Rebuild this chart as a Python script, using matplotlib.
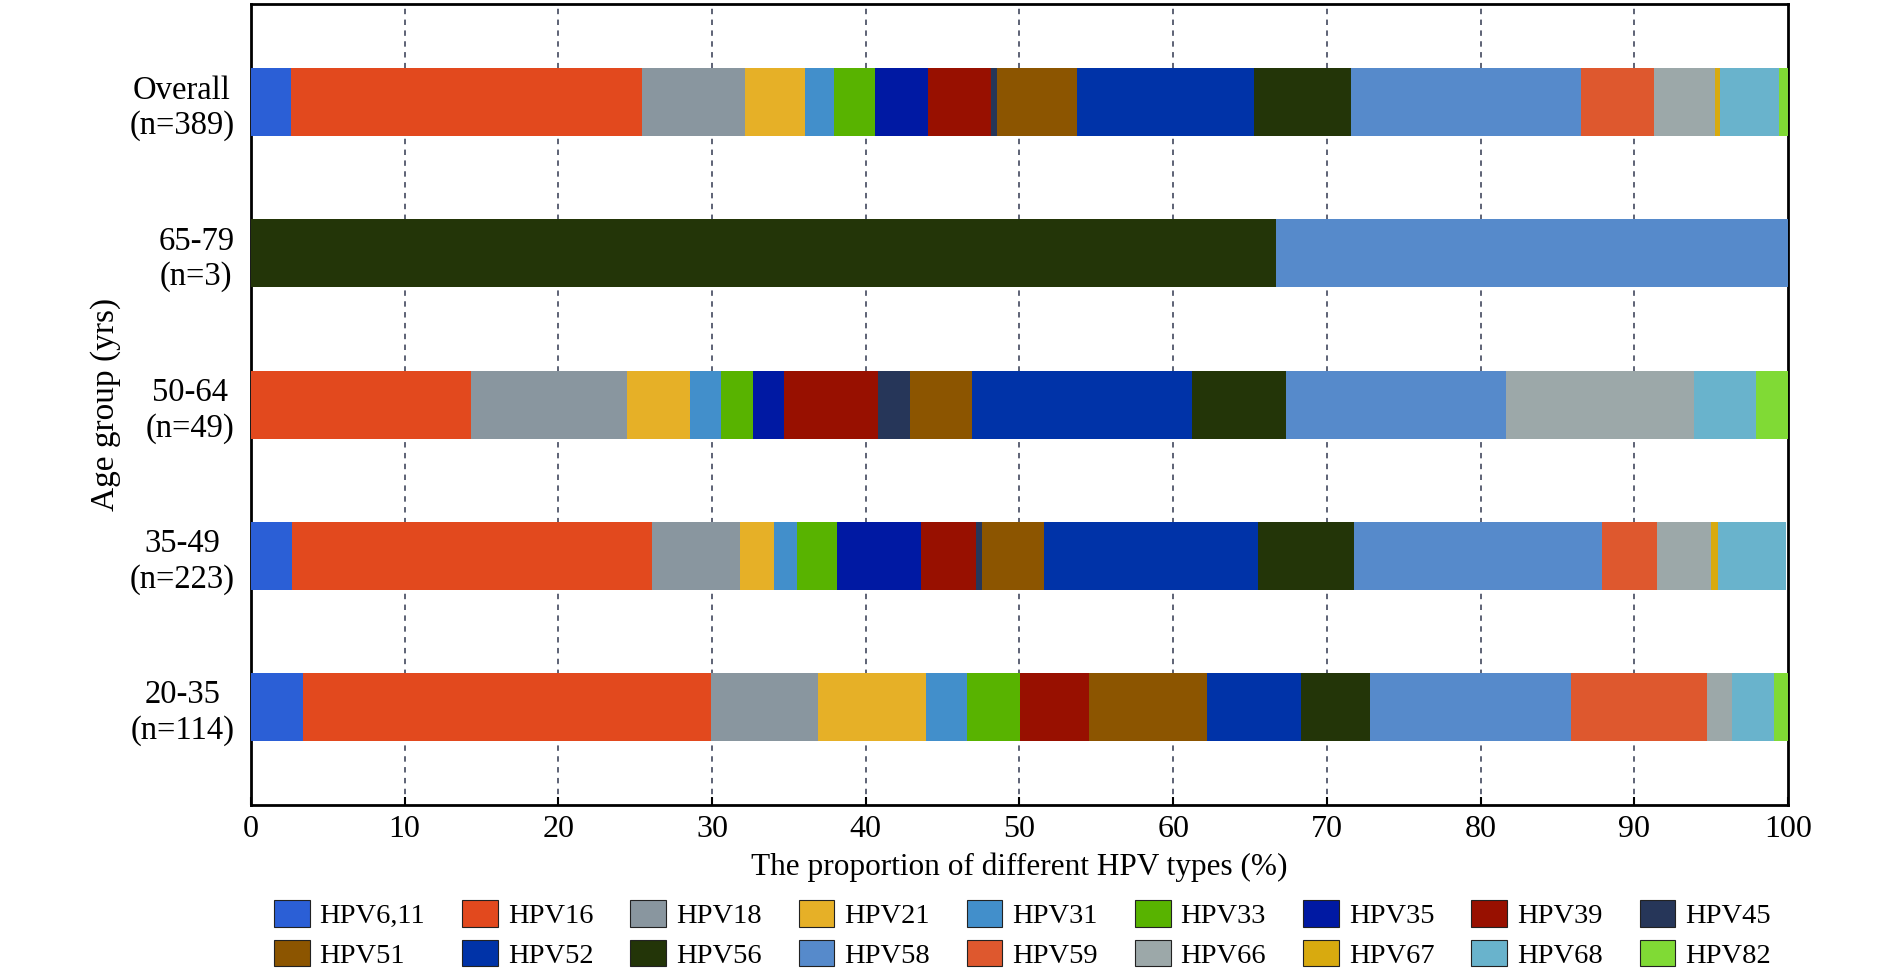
from matplotlib import pyplot as plt
from matplotlib.patches import Patch
import numpy as np

# HPV genotypes (stack order, left to right)
hpv_types = ['HPV6,11', 'HPV16', 'HPV18', 'HPV21', 'HPV31', 'HPV33', 'HPV35', 'HPV39', 'HPV45',
             'HPV51', 'HPV52', 'HPV56', 'HPV58', 'HPV59', 'HPV66', 'HPV67', 'HPV68', 'HPV82']

type_colors = ['#2b5fd6', '#e2491e', '#89969f', '#e6b027', '#428fcb', '#58b300', '#0019a3', '#981000', '#263659',
               '#8c5500', '#0033a8', '#233508', '#568acb', '#de582e', '#9ca8a9', '#d8aa0f', '#69b3cc', '#80da35']

# y labels, bottom to top
groups = ['20-35\n(n=114)', '35-49\n(n=223)', '50-64\n(n=49)', '65-79\n(n=3)', 'Overall\n(n=389)']

# proportion (%) of each type, same order as hpv_types
age_20_35 = [3.41, 26.49, 7.0, 7.0, 2.7, 3.45, 0, 4.45, 0,
             7.7, 6.1, 4.5, 13.07, 8.89, 1.63, 0, 2.68, 0.93]
age_35_49 = [2.69, 23.37, 5.78, 2.19, 1.5, 2.57, 5.52, 3.58, 0.38,
             4.02, 13.94, 6.23, 16.13, 3.6, 3.48, 0.5, 4.37, 0]
age_50_64 = [0, 14.29, 10.2, 4.08, 2.04, 2.04, 2.04, 6.12, 2.04,
             4.08, 14.29, 6.12, 14.29, 0, 12.24, 0, 4.08, 2.04]
age_65_79 = [0, 0, 0, 0, 0, 0, 0, 0, 0,
             0, 0, 66.67, 33.33, 0, 0, 0, 0, 0]
overall = [2.58, 22.89, 6.66, 3.92, 1.88, 2.64, 3.48, 4.13, 0.37,
           5.17, 11.56, 6.28, 14.98, 4.76, 3.96, 0.33, 3.84, 0.57]

x_ticks = [0, 10, 20, 30, 40, 50, 60, 70, 80, 90, 100]

plt.rcParams['font.family'] = ['Liberation Serif', 'DejaVu Serif']

data = np.array([age_20_35, age_35_49, age_50_64, age_65_79, overall])
ypos = np.arange(len(groups))

fig = plt.figure(figsize=(18.9, 9.76), dpi=100)
ax = fig.add_axes([0.1328, 0.175, 0.8132, 0.821])

left = np.zeros(len(groups))
for i, name in enumerate(hpv_types):
    ax.barh(ypos, data[:, i], left=left, height=0.45, color=type_colors[i],
            edgecolor='none', zorder=3, label=name)
    left += data[:, i]

# dashed vertical grid
for xv in x_ticks[1:-1]:
    ax.axvline(xv, color='#50566a', linestyle=(0, (3, 3)), linewidth=1.3, zorder=1)

ax.set_xlim(0, 100)
ax.set_ylim(-0.65, 4.65)
ax.set_xticks(x_ticks)
ax.set_yticks(ypos)
ax.set_yticklabels(groups, multialignment='center', fontsize=23.5)
ax.tick_params(axis='x', direction='in', length=6, width=1.5, labelsize=23, pad=7)
ax.tick_params(axis='y', length=0, pad=12)
for s in ax.spines.values():
    s.set_linewidth(2)
    s.set_color('black')

ax.set_xlabel('The proportion of different HPV types (%)', fontsize=22.5, labelpad=6)
ax.set_ylabel('Age group (yrs)', fontsize=24, labelpad=6)

# legend filled row by row (matplotlib fills by column)
handles = [Patch(facecolor=c, edgecolor='#222222', linewidth=0.8) for c in type_colors]
order = []
for col in range(9):
    order += [col, col + 9]
fig.legend([handles[k] for k in order], [hpv_types[k] for k in order],
           ncol=9, loc='lower center', bbox_to_anchor=(0.541, -0.004), frameon=False,
           fontsize=20.5, handlelength=1.25, handleheight=1.05, handletextpad=0.35,
           columnspacing=1.3, labelspacing=0.36, borderaxespad=0)

fig.savefig('out.png', dpi=100)
